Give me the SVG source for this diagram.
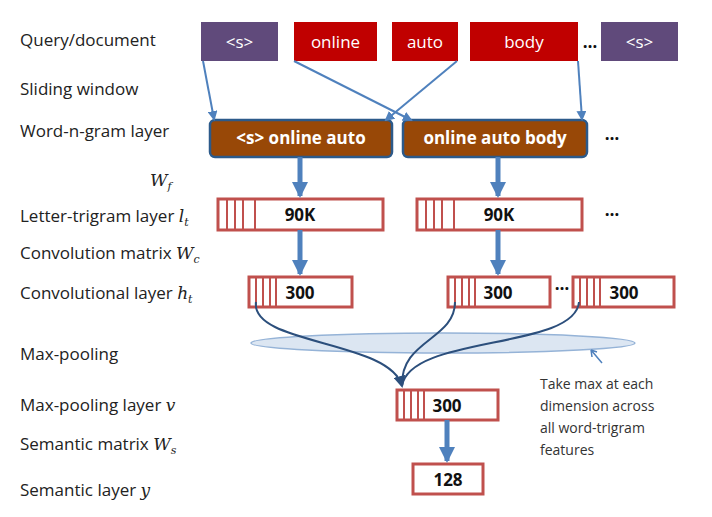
<svg xmlns="http://www.w3.org/2000/svg" width="712" height="517" viewBox="0 0 712 517">
<defs>
<style>
.lbl{font-family:"Open Sans","Liberation Sans",sans-serif;font-size:17px;fill:#222}
.m{font-family:"DejaVu Serif","Liberation Serif",serif;font-style:italic}
.w{font-family:"Open Sans","Liberation Sans",sans-serif;font-size:17px;fill:#fff;text-anchor:middle}
.b{font-family:"Open Sans","Liberation Sans",sans-serif;font-size:17px;font-weight:bold;fill:#111;text-anchor:middle}
.vec{fill:#fff;stroke:#c0504d;stroke-width:3}
.st{stroke:#c0504d;stroke-width:2}
.thin{stroke:#4f81bd;stroke-width:2;fill:none}
.thick{stroke:#4f81bd;stroke-width:5;fill:none}
.cur{stroke:#2c4f7c;stroke-width:2;fill:none}
.ann{font-family:"Open Sans","Liberation Sans",sans-serif;font-size:14px;fill:#333}
</style>
<marker id="a" markerWidth="10" markerHeight="10" refX="8" refY="5" orient="auto" markerUnits="userSpaceOnUse"><path d="M0,0 L10,5 L0,10 z" fill="#4f81bd"/></marker>
<marker id="ab" markerWidth="16" markerHeight="16" refX="14" refY="8" orient="auto" markerUnits="userSpaceOnUse"><path d="M0,0 L16,8 L0,16 z" fill="#4f81bd"/></marker>
<marker id="ad" markerWidth="12" markerHeight="12" refX="10" refY="6" orient="auto" markerUnits="userSpaceOnUse"><path d="M0,0 L12,6 L0,12 z" fill="#2c4f7c"/></marker>
</defs>
<g id="labels">
<text class="lbl" x="20" y="46">Query/document</text>
<text class="lbl" x="20" y="95">Sliding window</text>
<text class="lbl" x="20" y="137">Word-n-gram layer</text>
<text class="lbl m" x="150" y="186">W<tspan font-size="11" dy="4">f</tspan></text>
<text class="lbl" x="20" y="222">Letter-trigram layer <tspan class="m">l<tspan font-size="11" dy="4">t</tspan></tspan></text>
<text class="lbl" x="20" y="259">Convolution matrix <tspan class="m">W<tspan font-size="11" dy="4">c</tspan></tspan></text>
<text class="lbl" x="20" y="299">Convolutional layer <tspan class="m">h<tspan font-size="11" dy="4">t</tspan></tspan></text>
<text class="lbl" x="20" y="360">Max-pooling</text>
<text class="lbl" x="20" y="411">Max-pooling layer <tspan class="m">v</tspan></text>
<text class="lbl" x="20" y="450">Semantic matrix <tspan class="m">W<tspan font-size="11" dy="4">s</tspan></tspan></text>
<text class="lbl" x="20" y="496">Semantic layer <tspan class="m">y</tspan></text>
</g>
<g id="ellipse"><ellipse cx="443" cy="343" rx="192" ry="10" fill="#dce6f2" stroke="#95b3d7" stroke-width="1.5"/></g>
<g id="words">
<g id="w1"><rect x="201" y="22" width="77" height="39" fill="#604a7b"/><text class="w" x="239.5" y="48">&lt;s&gt;</text></g>
<g id="w2"><rect x="294" y="22" width="83" height="39" fill="#c00000"/><text class="w" x="335.5" y="48">online</text></g>
<g id="w3"><rect x="392" y="22" width="66" height="39" fill="#c00000"/><text class="w" x="425" y="48">auto</text></g>
<g id="w4"><rect x="470" y="22" width="108" height="39" fill="#c00000"/><text class="w" x="524" y="48">body</text></g>
<text class="b" x="590" y="48">…</text>
<g id="w5"><rect x="601" y="22" width="77" height="39" fill="#604a7b"/><text class="w" x="639.5" y="48">&lt;s&gt;</text></g>
</g>
<g id="ngrams">
<g id="n1"><rect x="210" y="120" width="182" height="37" rx="5" fill="#984807" stroke="#2c5a8a" stroke-width="2.5"/><text class="w" x="301" y="144" font-weight="bold">&lt;s&gt; online auto</text></g>
<g id="n2"><rect x="403" y="120" width="184" height="37" rx="5" fill="#984807" stroke="#2c5a8a" stroke-width="2.5"/><text class="w" x="495" y="144" font-weight="bold">online auto body</text></g>
<text class="b" x="612" y="140">…</text>
</g>
<g id="trigram">
<g id="t1"><rect class="vec" x="218" y="199" width="165" height="31"/><path class="st" d="M227,199V230M235,199V230M243,199V230M255,199V230"/><text class="b" x="300" y="221">90K</text></g>
<g id="t2"><rect class="vec" x="417" y="199" width="165" height="31"/><path class="st" d="M426,199V230M434,199V230M442,199V230M454,199V230"/><text class="b" x="499" y="221">90K</text></g>
<text class="b" x="612" y="216">…</text>
</g>
<g id="conv">
<g id="c1"><rect class="vec" x="249" y="277" width="103" height="30"/><path class="st" d="M256,277V307M263,277V307M270,277V307M276,277V307"/><text class="b" x="300" y="299">300</text></g>
<g id="c2"><rect class="vec" x="448" y="277" width="102" height="30"/><path class="st" d="M455,277V307M462,277V307M469,277V307M475,277V307"/><text class="b" x="498" y="299">300</text></g>
<text class="b" x="562" y="290">…</text>
<g id="c3"><rect class="vec" x="573" y="277" width="101" height="30"/><path class="st" d="M580,277V307M587,277V307M594,277V307M600,277V307"/><text class="b" x="624" y="299">300</text></g>
</g>
<g id="pool"><rect class="vec" x="397" y="390" width="101" height="30"/><path class="st" d="M404,390V420M411,390V420M418,390V420M424,390V420"/><text class="b" x="447" y="412">300</text></g>
<g id="sem"><rect class="vec" x="413" y="464" width="70" height="30"/><text class="b" x="448" y="486">128</text></g>
<g id="connectors">
<path class="thin" d="M203,61L214,119" marker-end="url(#a)"/>
<path class="thin" d="M294,61L411,120" marker-end="url(#a)"/>
<path class="thin" d="M457,61L386,120" marker-end="url(#a)"/>
<path class="thin" d="M578,61L582,119" marker-end="url(#a)"/>
<path class="thick" d="M300,157V196" marker-end="url(#ab)"/>
<path class="thick" d="M498,157V196" marker-end="url(#ab)"/>
<path class="thick" d="M300,230V274" marker-end="url(#ab)"/>
<path class="thick" d="M498,230V274" marker-end="url(#ab)"/>
<path class="thick" d="M447,420V461" marker-end="url(#ab)"/>
<path class="cur" d="M256,302C250,345 390,340 402,386" marker-end="url(#ad)"/>
<path class="cur" d="M455,302C455,340 400,340 402,386"/>
<path class="cur" d="M579,302C575,350 410,335 402,386"/>
<path d="M602,363L591,350M591,350L592,357M591,350L597,352" stroke="#4f81bd" stroke-width="1.5" fill="none"/>
</g>
<g id="note">
<text class="ann" x="540" y="389">Take max at each</text>
<text class="ann" x="540" y="411">dimension across</text>
<text class="ann" x="540" y="433">all word-trigram</text>
<text class="ann" x="540" y="455">features</text>
</g>
</svg>
